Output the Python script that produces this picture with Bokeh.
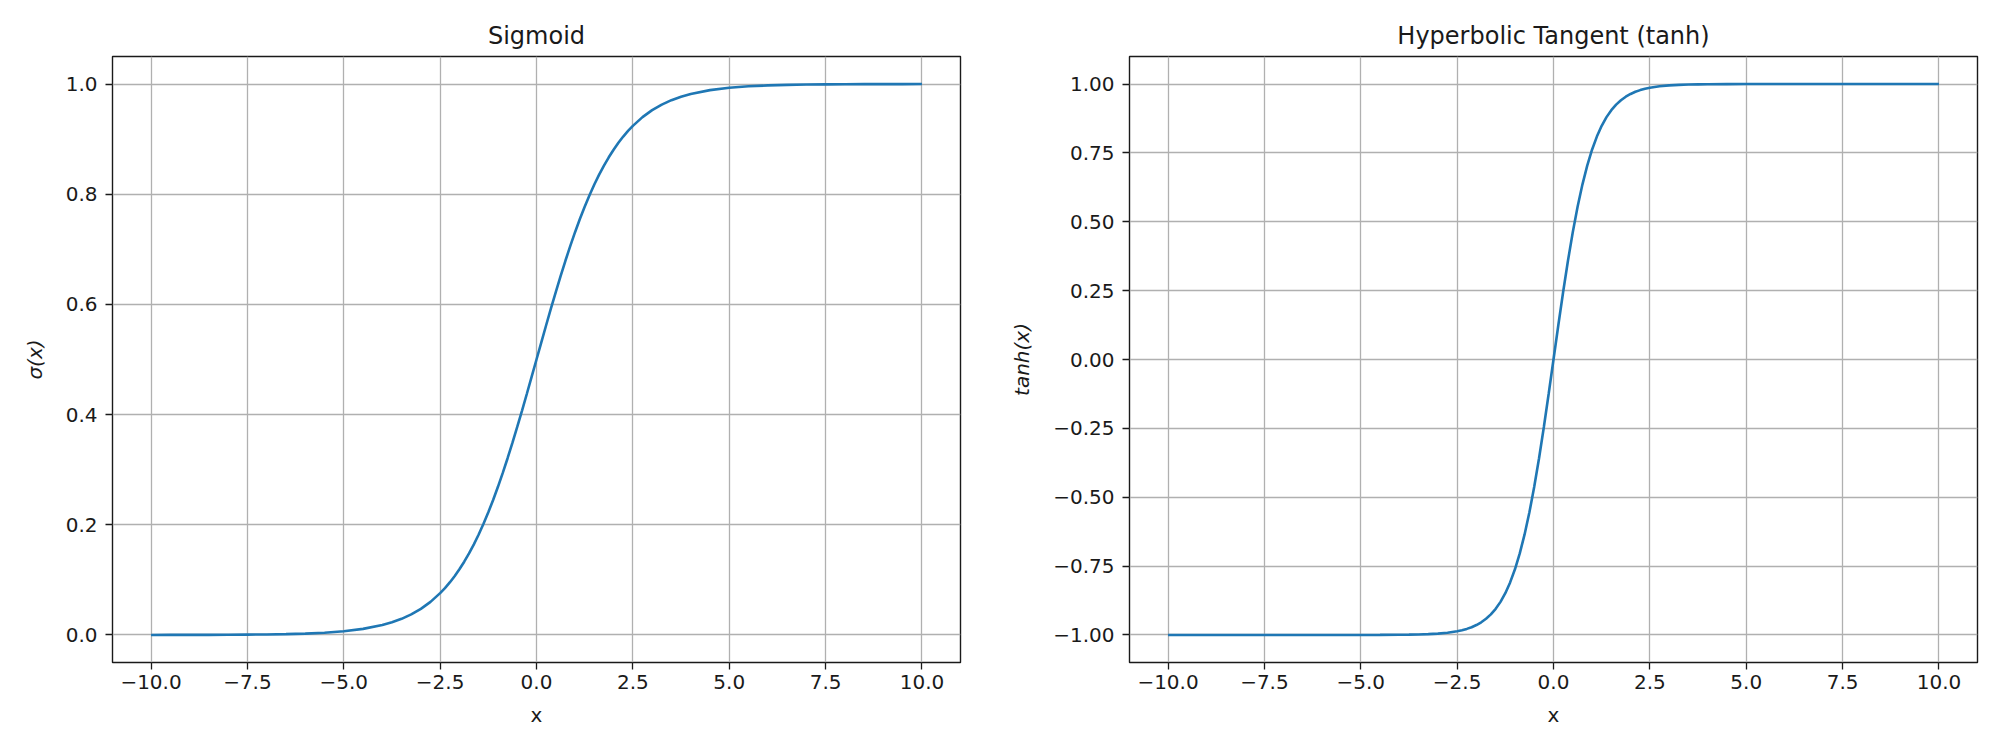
from bokeh.plotting import figure
from bokeh.layouts import row
from bokeh.models import Range1d, FixedTicker, CustomJSTickFormatter
from bokeh.embed import file_html
from bokeh.resources import INLINE

# ---- data ----
x_vals = [-10.0, -9.5, -9.0, -8.5, -8.0, -7.5, -7.0, -6.5, -6.0, -5.5, -5.0, -4.5,
          -4.0, -3.75, -3.5, -3.25, -3.0, -2.75,
          -2.5, -2.375, -2.25, -2.125, -2.0, -1.875, -1.75, -1.625, -1.5, -1.375,
          -1.25, -1.125, -1.0, -0.875, -0.75, -0.625, -0.5, -0.375, -0.25, -0.125,
          0.0, 0.125, 0.25, 0.375, 0.5, 0.625, 0.75, 0.875, 1.0, 1.125,
          1.25, 1.375, 1.5, 1.625, 1.75, 1.875, 2.0, 2.125, 2.25, 2.375, 2.5,
          2.75, 3.0, 3.25, 3.5, 3.75, 4.0,
          4.5, 5.0, 5.5, 6.0, 6.5, 7.0, 7.5, 8.0, 8.5, 9.0, 9.5, 10.0]

sigmoid_vals = [0.0000, 0.0001, 0.0001, 0.0002, 0.0003, 0.0006, 0.0009, 0.0015, 0.0025, 0.0041, 0.0067, 0.0110,
                0.0180, 0.0230, 0.0293, 0.0373, 0.0474, 0.0601,
                0.0759, 0.0851, 0.0953, 0.1067, 0.1192, 0.1330, 0.1480, 0.1645, 0.1824, 0.2018,
                0.2227, 0.2451, 0.2689, 0.2942, 0.3208, 0.3486, 0.3775, 0.4073, 0.4378, 0.4688,
                0.5000, 0.5312, 0.5622, 0.5927, 0.6225, 0.6514, 0.6792, 0.7058, 0.7311, 0.7549,
                0.7773, 0.7982, 0.8176, 0.8355, 0.8520, 0.8670, 0.8808, 0.8933, 0.9047, 0.9149, 0.9241,
                0.9399, 0.9526, 0.9627, 0.9707, 0.9770, 0.9820,
                0.9890, 0.9933, 0.9959, 0.9975, 0.9985, 0.9991, 0.9994, 0.9997, 0.9998, 0.9999, 0.9999, 1.0000]

tanh_vals = [-1.0000, -1.0000, -1.0000, -1.0000, -1.0000, -1.0000, -1.0000, -1.0000, -1.0000, -1.0000, -0.9999, -0.9998,
             -0.9993, -0.9989, -0.9982, -0.9970, -0.9951, -0.9919,
             -0.9866, -0.9828, -0.9780, -0.9719, -0.9640, -0.9541, -0.9414, -0.9254, -0.9051, -0.8799,
             -0.8483, -0.8093, -0.7616, -0.7039, -0.6351, -0.5546, -0.4621, -0.3584, -0.2449, -0.1244,
             0.0000, 0.1244, 0.2449, 0.3584, 0.4621, 0.5546, 0.6351, 0.7039, 0.7616, 0.8093,
             0.8483, 0.8799, 0.9051, 0.9254, 0.9414, 0.9541, 0.9640, 0.9719, 0.9780, 0.9828, 0.9866,
             0.9919, 0.9951, 0.9970, 0.9982, 0.9989, 0.9993,
             0.9998, 0.9999, 1.0000, 1.0000, 1.0000, 1.0000, 1.0000, 1.0000, 1.0000, 1.0000, 1.0000, 1.0000]

x_ticks = [-10.0, -7.5, -5.0, -2.5, 0.0, 2.5, 5.0, 7.5, 10.0]
x_tick_labels = ["\u221210.0", "\u22127.5", "\u22125.0", "\u22122.5", "0.0", "2.5", "5.0", "7.5", "10.0"]

sig_ticks = [0.0, 0.2, 0.4, 0.6, 0.8, 1.0]
sig_tick_labels = ["0.0", "0.2", "0.4", "0.6", "0.8", "1.0"]

tanh_ticks = [-1.0, -0.75, -0.5, -0.25, 0.0, 0.25, 0.5, 0.75, 1.0]
tanh_tick_labels = ["\u22121.00", "\u22120.75", "\u22120.50", "\u22120.25", "0.00", "0.25", "0.50", "0.75", "1.00"]

titles = ["Sigmoid", "Hyperbolic Tangent (tanh)"]
y_labels = ["\u03c3(x)", "tanh(x)"]

FONT = "DejaVu Sans"
LINE_COLOR = "#1f77b4"
TEXT_COLOR = "#1a1a1a"


def label_formatter(ticks, labels):
    return CustomJSTickFormatter(args=dict(vals=ticks, labs=labels), code="""
        let best = 0, bd = Infinity;
        for (let i = 0; i < vals.length; i++) {
            const d = Math.abs(vals[i] - tick);
            if (d < bd) { bd = d; best = i; }
        }
        return labs[best];
    """)


def make_fig(title, ylabel, yvals, yr, yticks, ylabels, left_border, right_border):
    p = figure(frame_width=848, frame_height=606,
               x_range=Range1d(-11, 11), y_range=Range1d(*yr),
               output_backend="svg", toolbar_location=None,
               min_border_left=left_border, min_border_right=right_border,
               min_border_top=56, min_border_bottom=72,
               background_fill_color="white", border_fill_color="white")
    p.title.text = title
    p.title.align = "center"
    p.title.text_font = FONT
    p.title.text_font_size = "24px"
    p.title.text_font_style = "normal"
    p.title.text_color = TEXT_COLOR
    p.title.standoff = 14

    p.outline_line_color = "#1a1a1a"
    p.outline_line_width = 1.4
    p.outline_line_alpha = 1.0

    for ax in (p.xaxis[0], p.yaxis[0]):
        ax.axis_line_color = None
        ax.major_tick_out = 7
        ax.major_tick_in = 0
        ax.major_tick_line_color = "#1a1a1a"
        ax.major_tick_line_width = 1.3
        ax.minor_tick_line_color = None
        ax.major_label_text_font = FONT
        ax.major_label_text_font_size = "20px"
        ax.major_label_text_color = TEXT_COLOR
        ax.axis_label_text_font = FONT
        ax.axis_label_text_font_size = "20px"
        ax.axis_label_text_color = TEXT_COLOR

    p.xaxis.ticker = FixedTicker(ticks=x_ticks)
    p.xaxis.formatter = label_formatter(x_ticks, x_tick_labels)
    p.xaxis.axis_label = "x"
    p.xaxis.axis_label_text_font_style = "normal"
    p.xaxis.major_label_standoff = 5
    p.xaxis.axis_label_standoff = 11

    p.yaxis.ticker = FixedTicker(ticks=yticks)
    p.yaxis.formatter = label_formatter(yticks, ylabels)
    p.yaxis.axis_label = ylabel
    p.yaxis.axis_label_text_font_style = "italic"
    p.yaxis.major_label_standoff = 8
    p.yaxis.axis_label_standoff = 16

    p.xgrid.ticker = FixedTicker(ticks=x_ticks)
    p.ygrid.ticker = FixedTicker(ticks=yticks)
    for g in (p.xgrid[0], p.ygrid[0]):
        g.grid_line_color = "#b0b0b0"
        g.grid_line_width = 1.3

    p.line(x_vals, yvals, line_color=LINE_COLOR, line_width=2.6)
    return p


p1 = make_fig(titles[0], y_labels[0], sigmoid_vals, (-0.05, 1.05), sig_ticks, sig_tick_labels, 112, 10)
p2 = make_fig(titles[1], y_labels[1], tanh_vals, (-1.1, 1.1), tanh_ticks, tanh_tick_labels, 159, 10)

layout = row(p1, p2)
open("out.html", "w").write(file_html(layout, INLINE))
